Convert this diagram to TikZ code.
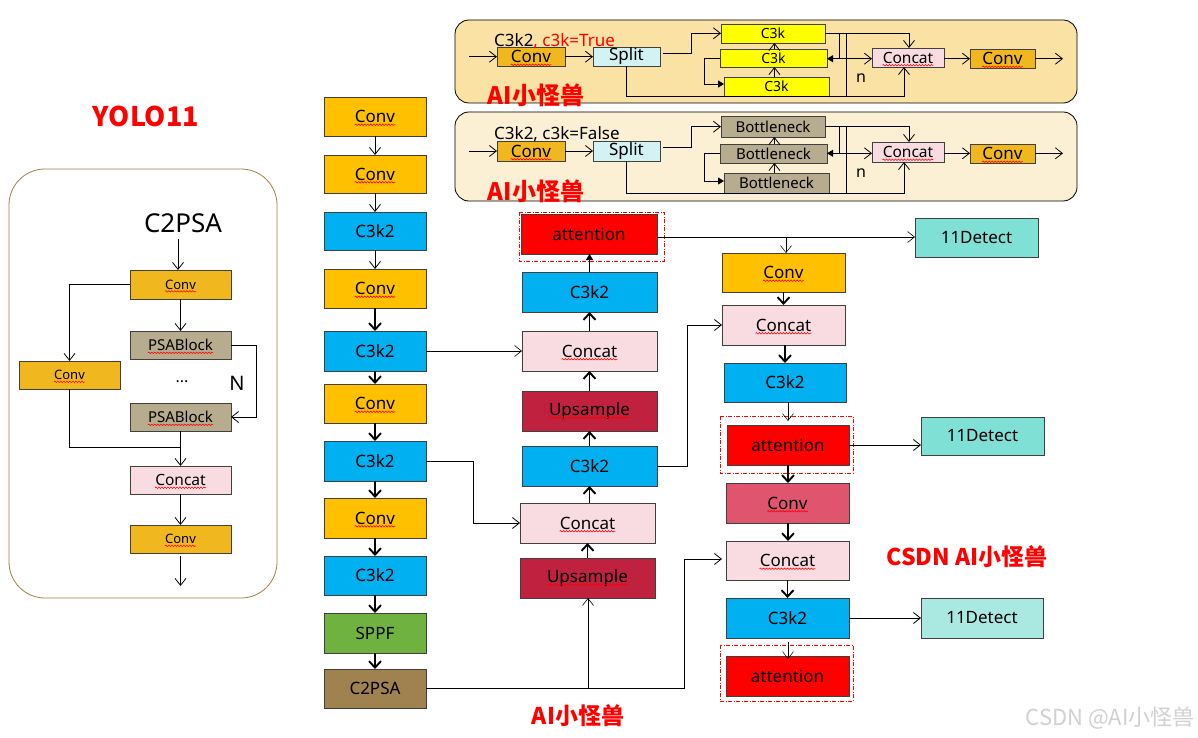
\documentclass[tikz,border=0pt]{standalone}
\usepackage{fontspec}
\setmainfont{Noto Sans}
\newfontfamily\cjkf{Noto Sans CJK SC}
\usetikzlibrary{arrows.meta,decorations.pathmorphing,calc}
\definecolor{cconv}{HTML}{FFC000}
\definecolor{cblue}{HTML}{00B0F0}
\definecolor{cgreen}{HTML}{70B23F}
\definecolor{cbrown}{HTML}{9F824F}
\definecolor{cups}{HTML}{C0213F}
\definecolor{cpink}{HTML}{F8DCE2}
\definecolor{crose}{HTML}{E0546E}
\definecolor{cdet}{HTML}{7FE0D5}
\definecolor{cdetb}{HTML}{AAE9E2}
\definecolor{cgold}{HTML}{F0B81E}
\definecolor{ctan}{HTML}{B8AC8E}
\definecolor{csplit}{HTML}{D2F2F4}
\definecolor{cyel}{HTML}{FFFF00}
\definecolor{cpanA}{HTML}{F9E2A4}
\definecolor{cpanB}{HTML}{FCF0D4}
\definecolor{cedge}{HTML}{404040}
\tikzset{
  boxst/.style={draw=cedge,line width=.9pt,inner sep=0pt,outer sep=0pt,text=black},
  thin line/.style={draw=black,line width=.8pt},
  ar/.style={draw=black,line width=.8pt,-{Straight Barb[length=7pt,width=11pt]}},
  arb/.style={draw=black,line width=1.9pt,-{Straight Barb[length=6.5pt,width=12pt]}},
  arf/.style={draw=black,line width=.8pt,-{Triangle[length=6pt,width=7pt]}},
  ard/.style={draw=black,line width=.8pt,{Triangle[length=6pt,width=7pt]}-{Straight Barb[length=7pt,width=11pt]}},
  wavyred/.style={draw=red,line width=.6pt,decorate,decoration={snake,amplitude=.7pt,segment length=3pt}},
  redbox/.style={draw=red,line width=.7pt,dash pattern=on 4pt off 1.5pt on 1pt off 1.5pt},
  panel/.style={draw=black,line width=.8pt,rounded corners=14pt},
  brand/.style={text=red,font=\cjkf\bfseries\fontsize{24}{26}\selectfont,inner sep=0pt},
}
% [size]{name}{x0}{y0}{x1}{y1}{colour}{text}
\newcommand\mybox[8][17]{%
  \node[boxst,fill=#7,minimum width={(#5-#3)*1pt},minimum height={(#6-#4)*1pt},font=\fontsize{#1}{#1}\selectfont]
    (#2) at ({(#3+#5)/2},{-(#4+#6)/2}) {#8};}
\newcommand\wbox[8][17]{%
  \node[boxst,fill=#7,minimum width={(#5-#3)*1pt},minimum height={(#6-#4)*1pt}]
    (#2) at ({(#3+#5)/2},{-(#4+#6)/2}) {};
  \node[inner sep=0pt,font=\fontsize{#1}{#1}\selectfont] (#2t) at (#2.center) {#8};
  \draw[wavyred] ($(#2t.base west)+(0,-2.2)$) -- ($(#2t.base east)+(0,-2.2)$);}
\begin{document}
\begin{tikzpicture}[x=1pt,y=1pt]
\useasboundingbox (0,0) rectangle (1198,-738);
\fill[white] (0,0) rectangle (1198,-738);

% ---- top panels
\draw[panel,fill=cpanA] (455,-20) rectangle (1077,-103);
\draw[panel,fill=cpanB] (455,-112) rectangle (1077,-201);

% ---- panel A
\wbox{aconv}{497}{47}{565}{66}{cgold}{Conv}
\mybox{asplit}{593}{47}{660}{66}{csplit}{Split}
\mybox[14]{ak1}{721}{24}{825}{43}{cyel}{C3k}
\mybox[14]{ak2}{720}{49}{827}{67}{cyel}{C3k}
\mybox[14]{ak3}{724}{77}{829}{96}{cyel}{C3k}
\wbox[15.5]{acat}{872}{48}{944}{67}{cpink}{Concat}
\wbox{aconvb}{970}{49}{1035}{68}{cgold}{Conv}
\node[anchor=base west,inner sep=0pt,font=\fontsize{17}{17}\selectfont] (atitle) at (494,-47) {C3k2\textcolor{red}{, c3k=True}};
\node[inner sep=0pt,font=\fontsize{16}{16}\selectfont] (an) at (861,-78) {n};
\node[brand,anchor=center] (abrand) at (536,-95) {AI小怪兽};
\coordinate (ain) at (469,-56.7);
\coordinate (aout) at (1063,-58.7);
\coordinate (asp) at (663,-53.3);
\coordinate (aj1) at (839,-33.3);
\coordinate (aj2) at (846,-33.3);
\coordinate (ajm) at (839,-58.7);
\coordinate (ajb) at (846,-96.7);
\draw[ar] (ain) -- (aconv.west |- ain);
\draw[ar] (aconv.east |- ain) -- (asplit.west |- ain);
\draw[ar] (asp) -- (691.5,-53.3) -- (691.5,-33.3) -- (ak1.west |- 0,-33.3);
\draw[arf] (ak2.west |- 0,-58.7) -- (704,-58.7) -- (704,-84) -- (ak3.west |- 0,-84);
\draw[ar] (ak3.north -| 774.4,0) -- (ak2.south -| 774.4,0);
\draw[ar] (ak2.north -| 774.4,0) -- (ak1.south -| 774.4,0);
\draw[ar] (626,-66) -- (626,-96.7) -- (904,-96.7) -- (acat.south -| 904,0);
\draw[ar] (ak1.east |- 0,-33.3) -- (909,-33.3) -- (acat.north -| 909,0);
\draw[thin line] (aj1) -- (ajm);
\draw[thin line] (aj2) -- (ajb);
\draw[ard] (ak2.east |- ajm) -- (acat.west |- ajm);
\draw[ar] (acat.east |- aout) -- (aconvb.west |- aout);
\draw[ar] (aconvb.east |- aout) -- (aout);

% ---- panel B
\wbox{bconv}{497}{141}{565}{161}{cgold}{Conv}
\mybox{bsplit}{593}{141}{660}{161}{csplit}{Split}
\mybox[15]{bk1}{721}{116}{825}{137}{ctan}{Bottleneck}
\mybox[15]{bk2}{720}{144}{827}{163}{ctan}{Bottleneck}
\mybox[15]{bk3}{724}{173}{829}{193}{ctan}{Bottleneck}
\wbox[15.5]{bcat}{872}{142}{944}{162}{cpink}{Concat}
\wbox{bconvb}{970}{144}{1035}{163}{cgold}{Conv}
\node[anchor=base west,inner sep=0pt,font=\fontsize{17}{17}\selectfont] (btitle) at (494,-140) {C3k2, c3k=False};
\node[inner sep=0pt,font=\fontsize{16}{16}\selectfont] (bn) at (861,-173) {n};
\node[brand,anchor=center] (bbrand) at (536,-191) {AI小怪兽};
\coordinate (bin) at (469,-151);
\coordinate (bout) at (1063,-153.3);
\coordinate (bsp) at (663,-147);
\coordinate (bj1) at (839,-126.7);
\coordinate (bj2) at (846,-126.7);
\coordinate (bjm) at (839,-153.3);
\coordinate (bjb) at (846,-193.3);
\draw[ar] (bin) -- (bconv.west |- bin);
\draw[ar] (bconv.east |- bin) -- (bsplit.west |- bin);
\draw[ar] (bsp) -- (691.5,-147) -- (691.5,-126.7) -- (bk1.west |- 0,-126.7);
\draw[arf] (bk2.west |- 0,-153.3) -- (704,-153.3) -- (704,-181) -- (bk3.west |- 0,-181);
\draw[ar] (bk3.north -| 774.4,0) -- (bk2.south -| 774.4,0);
\draw[ar] (bk2.north -| 774.4,0) -- (bk1.south -| 774.4,0);
\draw[ar] (626,-161) -- (626,-193.3) -- (904,-193.3) -- (bcat.south -| 904,0);
\draw[ar] (bk1.east |- 0,-126.7) -- (909,-126.7) -- (bcat.north -| 909,0);
\draw[thin line] (bj1) -- (bjm);
\draw[thin line] (bj2) -- (bjb);
\draw[ard] (bk2.east |- bjm) -- (bcat.west |- bjm);
\draw[ar] (bcat.east |- bout) -- (bconvb.west |- bout);
\draw[ar] (bconvb.east |- bout) -- (bout);

% ---- left panel
\node[text=red,font=\cjkf\bfseries\fontsize{27}{27}\selectfont,inner sep=0pt] (yolo) at (146,-116) {YOLO11};
\draw[draw=cbrown,line width=.8pt,rounded corners=36pt] (9,-169) rectangle (277,-598);
\node[inner sep=0pt,font=\fontsize{26}{26}\selectfont] (ltitle) at (183,-223) {C2PSA};
\wbox[13]{lconv}{130}{270}{231}{299}{cgold}{Conv}
\wbox[15]{lp1}{130}{331}{231}{359}{ctan}{PSABlock}
\wbox[15]{lp2}{130}{403}{231}{431}{ctan}{PSABlock}
\wbox[13]{lside}{19}{361}{120}{389}{cgold}{Conv}
\wbox[15.5]{lcat}{130}{466}{231}{494}{cpink}{Concat}
\wbox[13]{lconvb}{130}{525}{231}{553}{cgold}{Conv}
\node[inner sep=0pt,font=\fontsize{16}{16}\selectfont] (ldots) at (182,-382) {...};
\node[inner sep=0pt,font=\fontsize{20}{20}\selectfont] (lN) at (237,-383) {N};
\coordinate (ltop) at (178,-239);
\coordinate (lend) at (180.5,-586);
\coordinate (lj) at (180.5,-447);
\draw[ar] (ltop) -- (ltop |- lconv.north);
\draw[ar] (lconv.south) -- (lp1.north);
\draw[ar] (lp2.south) -- (lcat.north);
\draw[ar] (lcat.south) -- (lconvb.north);
\draw[ar] (180.5,-556) -- (lend);
\draw[ar] (lp1.east) -- (256,-345) -- (256,-417) -- (lp2.east);
\draw[ar] (lconv.west) -- (lside.north |- lconv.west) -- (lside.north);
\draw[thin line] (lside.south) -- (lside.south |- lj) -- (lj);

% ---- column 1
\wbox{c1}{324}{97}{426}{136}{cconv}{Conv}
\wbox{m1}{324}{155}{426}{193}{cconv}{Conv}
\mybox{m2}{324}{212}{426}{250}{cblue}{C3k2}
\wbox{m3}{324}{269}{426}{308}{cconv}{Conv}
\mybox{m4}{324}{331}{426}{371}{cblue}{C3k2}
\wbox{m5}{324}{384}{426}{423}{cconv}{Conv}
\mybox{m6}{324}{441}{426}{481}{cblue}{C3k2}
\wbox{m7}{324}{498}{426}{538}{cconv}{Conv}
\mybox{m8}{324}{556}{426}{595}{cblue}{C3k2}
\mybox{m9}{324}{613}{426}{653}{cgreen}{SPPF}
\mybox{m10}{324}{669}{426}{708}{cbrown}{C2PSA}
\draw[ar] (c1.south) -- (m1.north);
\draw[ar] (m1.south) -- (m2.north);
\draw[ar] (m2.south) -- (m3.north);
\draw[arb] (m3.south) -- (m4.north);
\draw[arb] (m4.south) -- (m5.north);
\draw[arb] (m5.south) -- (m6.north);
\draw[arb] (m6.south) -- (m7.north);
\draw[arb] (m7.south) -- (m8.north);
\draw[arb] (m8.south) -- (m9.north);
\draw[arb] (m9.south) -- (m10.north);

% ---- column 2
\draw[redbox] (519,-212) rectangle (664,-261);
\mybox{n1}{521}{214}{657}{254}{red}{attention}
\mybox{n2}{522}{272}{657}{312}{cblue}{C3k2}
\wbox{n3}{522}{331}{657}{371}{cpink}{Concat}
\wbox{n4}{522}{391}{657}{431}{cups}{Upsample}
\mybox{n5}{522}{446}{657}{486}{cblue}{C3k2}
\wbox{n6}{520}{503}{655}{543}{cpink}{Concat}
\wbox{n7}{520}{558}{655}{598}{cups}{Upsample}
\draw[arb] (n7.north) -- (n6.south);
\draw[arb] (n6.north -| n5.south) -- (n5.south);
\draw[arb] (n5.north) -- (n4.south);
\draw[arb] (n4.north) -- (n3.south);
\draw[arb] (n3.north) -- (n2.south);
\draw[arf] (n2.north) -- (n1.south -| n2.north);

% ---- column 3
\wbox{r1}{722}{253}{845}{292}{cconv}{Conv}
\wbox{r2}{722}{305}{845}{345}{cpink}{Concat}
\mybox{r3}{724}{363}{846}{402}{cblue}{C3k2}
\draw[redbox] (720,-416) rectangle (853,-473);
\mybox{r4}{727}{425}{849}{465}{red}{attention}
\wbox{r5}{726}{483}{849}{523}{crose}{Conv}
\wbox{r6}{726}{541}{849}{580}{cpink}{Concat}
\mybox{r7}{726}{598}{849}{638}{cblue}{C3k2}
\draw[redbox] (720,-645) rectangle (853,-701);
\mybox{r8}{726}{656}{849}{696}{red}{attention}
\draw[arb] (r1.south) -- (r1.south |- r2.north);
\draw[arb] (r2.south -| r3.south) -- (r3.north);
\draw[ar,line width=.5pt] (788,-402) -- (788,-421);
\draw[arb] (r4.south) -- (r4.south |- r5.north);
\draw[arb] (r5.south -| r4.south) -- (r4.south |- r6.north);
\draw[arb] (r6.south) -- (r7.north);
\draw[ar,line width=.5pt] (788,-642) -- (788,-659);

% ---- detect boxes
\mybox{d1}{915}{218}{1038}{257}{cdet}{11Detect}
\mybox{d2}{921}{417}{1044}{455}{cdet}{11Detect}
\mybox{d3}{921}{598}{1043}{638}{cdetb}{11Detect}
\coordinate (jt) at (786,-237);
\coordinate (ja) at (473,-461);
\coordinate (jb) at (687,-466);
\coordinate (jc) at (684,-559);
\coordinate (jd) at (588,-689);
\draw[ar,line width=.6pt] (n1.east |- jt) -- (d1.west |- jt);
\draw[ar,line width=.5pt] (jt) -- (jt |- r1.north);
\draw[ar] (r4.east) -- (d2.west |- r4.east);
\draw[ar] (r7.east) -- (d3.west |- r7.east);
\draw[ar,line width=.6pt] (m4.east) -- (n3.west);
\draw[ar] (m6.east) -- (ja) -- (ja |- n6.west) -- (n6.west);
\draw[ar] (n5.east) -- (jb) -- (jb |- r2.west) -- (r2.west);
\draw[ar] (m10.east) -- (jc |- m10.east) -- (jc) -- (722,-559);
\draw[ar,line width=.6pt] (jd) -- (jd |- n7.south);

% ---- free labels
\node[text=red,font=\cjkf\bfseries\fontsize{23}{23}\selectfont,inner sep=0pt] (blabel) at (578,-716) {AI小怪兽};
\node[text=red,font=\cjkf\bfseries\fontsize{23}{23}\selectfont,inner sep=0pt] (clabel) at (967,-557) {CSDN AI小怪兽};
\node[text=black!18,anchor=east,font=\cjkf\fontsize{22}{22}\selectfont,inner sep=0pt] (wm) at (1195,-718) {CSDN @AI小怪兽};
\end{tikzpicture}
\end{document}
